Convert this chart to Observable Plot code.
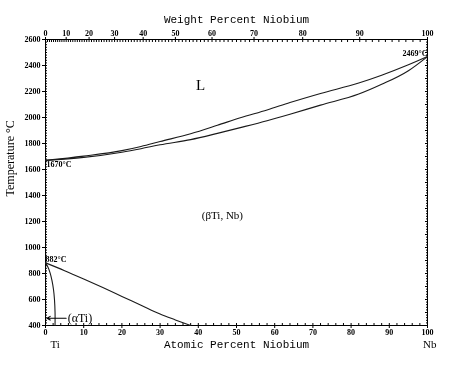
<!DOCTYPE html>
<html><head><meta charset="utf-8">
<script src="https://cdn.jsdelivr.net/npm/d3@7"></script>
<script src="https://cdn.jsdelivr.net/npm/@observablehq/plot@0.6"></script>
<style>body{margin:0;background:#fff} svg{will-change:transform} svg text{fill:#000}</style>
</head><body><div id="chart"></div>
<script>
// Liquidus (atomic % Nb, °C)
const liqAt = [0, 10, 20, 25, 30, 38, 45, 51, 58, 64, 72, 82, 88, 95, 100];
const liqT  = [1670, 1703, 1745, 1777, 1815, 1875, 1940, 1998, 2058, 2115, 2185, 2265, 2325, 2405, 2469];
// Solidus
const solAt = [0, 10, 20, 25, 30, 38, 45, 51, 58, 64, 72, 82, 88, 95, 100];
const solT  = [1670, 1693, 1733, 1760, 1790, 1830, 1878, 1922, 1975, 2025, 2095, 2180, 2255, 2360, 2469];
// beta transus
const betaAt = [0, 5, 10, 15, 20, 25, 30, 34, 38];
const betaT  = [882, 822, 758, 692, 624, 556, 488, 443, 400];
// alpha solvus
const alphaAt = [0, 0.6, 1.2, 1.7, 2.1, 2.35, 2.5, 2.5];
const alphaT  = [882, 852, 805, 745, 675, 600, 500, 400];

const tempTicks = [400, 600, 800, 1000, 1200, 1400, 1600, 1800, 2000, 2200, 2400, 2600];
const atTicks = [0, 10, 20, 30, 40, 50, 60, 70, 80, 90, 100];
const wtTicks = [0, 10, 20, 30, 40, 50, 60, 70, 80, 90, 100];

const MTi = 47.867, MNb = 92.906;
const wtToAt = w => { const a = w / MNb, b = (100 - w) / MTi; return 100 * a / (a + b); };

const wtMajorPos = wtTicks.map(wtToAt);
const wtLabel = new Map(wtMajorPos.map((p, i) => [p, String(wtTicks[i])]));
const wtMinorPos = d3.range(0, 101, 1).map(wtToAt);

const pts = (xs, ys) => xs.map((x, i) => ({x, y: ys[i]}));

const serif = "Liberation Serif";
const mono = "Liberation Mono";
const ink = "#000";
const lineInk = "#1a1a1a";

const chart = Plot.plot({
  width: 474, height: 372,
  marginLeft: 45, marginRight: 47, marginTop: 39, marginBottom: 47,
  style: {background: "#fff", color: ink, fontFamily: serif},
  x: {domain: [0, 100]},
  y: {domain: [400, 2600]},
  marks: [
    Plot.frame({stroke: ink}),
    // left axis
    Plot.axisY(tempTicks, {anchor: "left", tickSize: 3, tickPadding: 2, fontSize: 8, fontWeight: 600, fontFamily: serif, fill: ink, label: null, tickFormat: d => String(d)}),
    Plot.axisY(d3.range(400, 2601, 20), {anchor: "left", tickSize: -2, text: null, label: null}),
    Plot.axisY(d3.range(400, 2601, 100), {anchor: "right", tickSize: -3, text: null, label: null}),
    Plot.axisY(d3.range(400, 2601, 20), {anchor: "right", tickSize: -2, text: null, label: null}),
    // bottom axis
    Plot.axisX(atTicks, {anchor: "bottom", tickSize: 3, tickPadding: 1, fontSize: 8, fontWeight: 600, fontFamily: serif, fill: ink, label: null, tickFormat: d => String(d)}),
    Plot.axisX(d3.range(0, 101, 2), {anchor: "bottom", tickSize: -2, text: null, label: null}),
    // top axis (weight percent)
    Plot.axisX(wtMajorPos, {anchor: "top", tickSize: 3, tickPadding: 1, fontSize: 8, fontWeight: 600, fontFamily: serif, fill: ink, label: null, tickFormat: d => wtLabel.get(d)}),
    Plot.axisX(wtMinorPos, {anchor: "top", tickSize: -2, text: null, label: null}),
    // curves
    Plot.line(pts(liqAt, liqT), {x: "x", y: "y", curve: "monotone-x", stroke: lineInk, strokeWidth: 1.1}),
    Plot.line(pts(solAt, solT), {x: "x", y: "y", curve: "monotone-x", stroke: lineInk, strokeWidth: 1.1}),
    Plot.line(pts(betaAt, betaT), {x: "x", y: "y", curve: "monotone-x", stroke: lineInk, strokeWidth: 1.1}),
    Plot.line(pts(alphaAt, alphaT), {x: "x", y: "y", curve: "catmull-rom", stroke: lineInk, strokeWidth: 1.1}),
    // arrow for (αTi)
    Plot.arrow([{x1: 5.4, x2: 0.4, y: 456}], {x1: "x1", x2: "x2", y1: "y", y2: "y", stroke: ink, strokeWidth: 1.1, headLength: 5}),
    // annotations
    Plot.text([{x: 5.8, y: 456, t: "(αTi)"}], {x: "x", y: "y", text: "t", textAnchor: "start", fontSize: 12, fontFamily: serif, fill: ink}),
    Plot.text([{x: 40.6, y: 2246, t: "L"}], {x: "x", y: "y", text: "t", fontSize: 15, fontFamily: serif, fill: ink}),
    Plot.text([{x: 46.3, y: 1246, t: "(βTi, Nb)"}], {x: "x", y: "y", text: "t", fontSize: 11, fontFamily: serif, fill: ink}),
    Plot.text([{x: 0, y: 1670, t: "1670°C"}], {x: "x", y: "y", text: "t", textAnchor: "start", dx: 1, dy: 1, lineAnchor: "top", fontSize: 8, fontWeight: 600, fontFamily: serif, fill: ink}),
    Plot.text([{x: 0, y: 882, t: "882°C"}], {x: "x", y: "y", text: "t", textAnchor: "start", dx: 0, dy: -1, lineAnchor: "bottom", fontSize: 8, fontWeight: 600, fontFamily: serif, fill: ink}),
    Plot.text([{x: 100, y: 2469, t: "2469°C"}], {x: "x", y: "y", text: "t", textAnchor: "end", dx: 0, dy: -1, lineAnchor: "bottom", fontSize: 8, fontWeight: 600, fontFamily: serif, fill: ink}),
    // axis titles
    Plot.text(["Weight Percent Niobium"], {frameAnchor: "top", dy: -24, text: d => d, fontSize: 11, fontFamily: mono, fill: ink}),
    Plot.text(["Atomic Percent Niobium"], {frameAnchor: "bottom", dy: 22, text: d => d, fontSize: 11, fontFamily: mono, fill: ink}),
    Plot.text(["Ti"], {frameAnchor: "bottom-left", dy: 22, dx: 5, text: d => d, fontSize: 11, fontFamily: serif, fill: ink}),
    Plot.text(["Nb"], {frameAnchor: "bottom-right", dy: 22, dx: 9, text: d => d, fontSize: 11, fontFamily: serif, fill: ink}),
    Plot.text(["Temperature °C"], {frameAnchor: "left", dx: -35, dy: 14, rotate: -90, text: d => d, fontSize: 12, fontFamily: serif, fill: ink})
  ]
});
document.getElementById("chart").appendChild(chart);
</script>
</body></html>
